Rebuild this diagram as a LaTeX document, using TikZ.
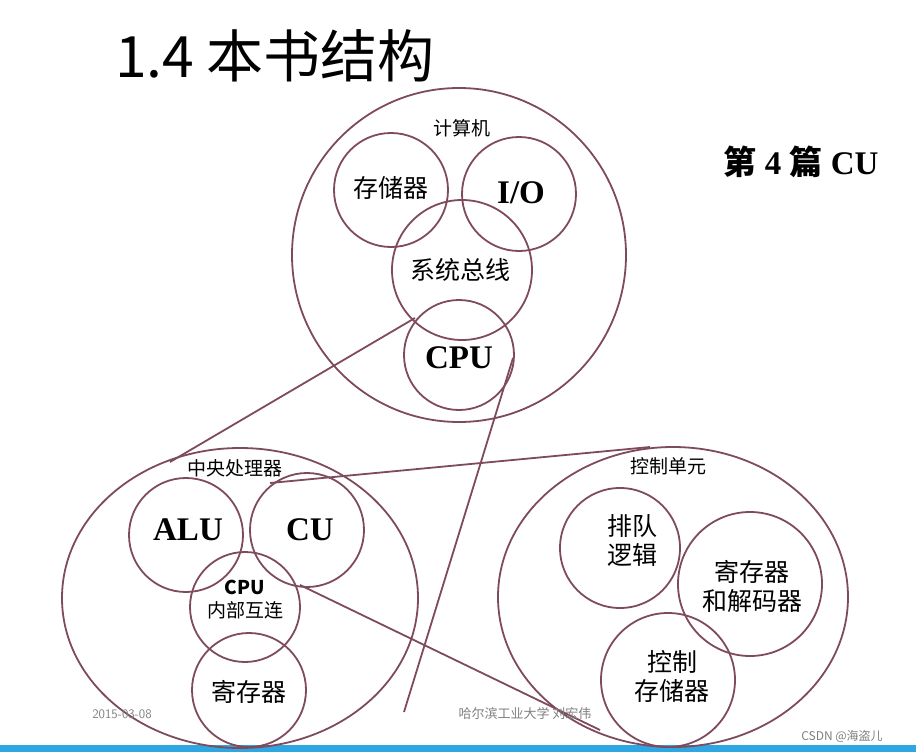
\documentclass[tikz,border=0pt]{standalone}
\usepackage{fontspec}
\setmainfont{Liberation Serif}
\newfontfamily\cjk{Noto Sans CJK SC}
\begin{document}
\begin{tikzpicture}[x=1pt,y=-1pt,
  ring/.style={draw=ln,line width=1.8pt},
  lab/.style={font=\cjk\fontsize{25}{29}\selectfont},
  big/.style={font=\bfseries\fontsize{33}{35}\selectfont},
  link/.style={draw=ln,line width=1.8pt}]
\definecolor{ln}{HTML}{7E4A5C}
\definecolor{bar}{HTML}{2EA6E2}
\useasboundingbox (0,0) rectangle (916,752);
\fill[white] (0,0) rectangle (916,752);
\fill[bar] (0,745) rectangle (916,752);
\node[font=\cjk\fontsize{57}{60}\selectfont] (title) at (275,56) {1.4 本书结构};
\node[font=\bfseries\fontsize{33}{35}\selectfont] (part) at (801,162) {{\cjk 第} 4 {\cjk 篇} CU};
% top
\draw[ring] (459,255) circle (167);
\node[font=\cjk\fontsize{19}{21}\selectfont] (comp) at (462,128) {计算机};
\draw[ring] (391,190) circle (57); \node[lab] (mem) at (391,188) {存储器};
\draw[ring] (519,194) circle (57); \node[big] (io) at (521,193) {I/O};
\draw[ring] (462,270) circle (70); \node[lab] (bus) at (460,270) {系统总线};
\draw[ring] (459,355) circle (55); \node[big] (cpu) at (459,358) {CPU};
% bottom left
\draw[ring] (240,598) ellipse (178 and 150);
\node[font=\cjk\fontsize{19}{21}\selectfont] (cpuc) at (235,468) {中央处理器};
\draw[ring] (186,535) circle (57); \node[big] (alu) at (188,530) {ALU};
\draw[ring] (307,530) circle (57); \node[big] (cu) at (310,530) {CU};
\draw[ring] (245,607) circle (55);
\node[font=\cjk\fontsize{19}{23}\selectfont,align=center] (ic) at (245,600) {\textbf{CPU}\\内部互连};
\draw[ring] (249,690) circle (57); \node[lab] (reg) at (249,692) {寄存器};
% bottom right
\draw[ring] (673,597) ellipse (175 and 150);
\node[font=\cjk\fontsize{19}{21}\selectfont] (cun) at (668,466) {控制单元};
\draw[ring] (620,548) circle (60);
\node[lab,align=center] (q) at (632,540) {排队\\逻辑};
\draw[ring] (750,584) circle (72);
\node[lab,align=center] (rd) at (752,586) {寄存器\\和解码器};
\draw[ring] (668,680) circle (67);
\node[lab,align=center] (cs) at (672,676) {控制\\存储器};
% links
\coordinate (a1) at (415,318); \coordinate (a2) at (170,462);
\coordinate (b1) at (513,358); \coordinate (b2) at (404,712);
\draw[link] (a1) -- (a2); \draw[link] (b1) -- (b2);
\coordinate (c1) at (270,483); \coordinate (c2) at (650,447);
\coordinate (d1) at (300,585); \coordinate (d2) at (600,730);
\draw[link] (c1) -- (c2); \draw[link] (d1) -- (d2);
% footer
\node[text=gray,font=\sffamily\fontsize{13}{14}\selectfont] (date) at (122,714) {2015-03-08};
\node[text=gray,font=\cjk\fontsize{13}{14}\selectfont] (auth) at (525,714) {哈尔滨工业大学 刘宏伟};
\node[text=gray,font=\cjk\fontsize{12}{13}\selectfont] (csdn) at (842,736) {CSDN @海盗儿};
\end{tikzpicture}
\end{document}
